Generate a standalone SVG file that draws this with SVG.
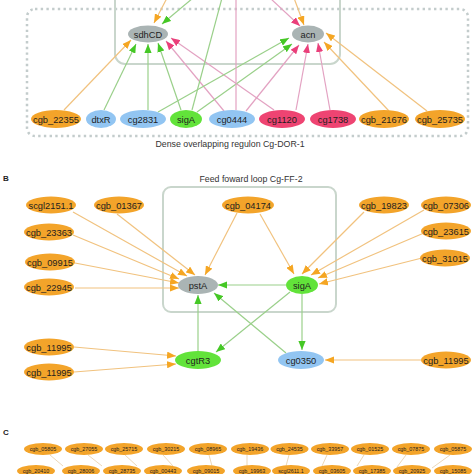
<svg xmlns="http://www.w3.org/2000/svg" width="474" height="474" viewBox="0 0 474 474">
<style>
text{font-family:"Liberation Sans",Arial,sans-serif;fill:#1e1e1e;text-anchor:middle}
.n text{font-size:9.3px}
.c text{font-size:5.4px}
.o{fill:#f3a42a}
.g{fill:#62e33a}
.b{fill:#92c5f2}
.p{fill:#ee4472}
.y{fill:#aab4b4}
.eo{stroke:#f1c27e;stroke-width:1.2;fill:none}
.eg{stroke:#9ad08a;stroke-width:1.2;fill:none}
.ep{stroke:#e3a2c2;stroke-width:1.2;fill:none}
.ec{stroke:#e6cda6;stroke-width:0.8;fill:none}
.mo{marker-end:url(#ao)}
.mg{marker-end:url(#ag)}
.mp{marker-end:url(#ap)}
.cap{font-size:8.8px;fill:#333}
.lbl{font-size:8px;font-weight:bold;text-anchor:start;fill:#222}
</style>
<defs>
<marker id="ao" viewBox="0 0 10 8" refX="10" refY="4" markerWidth="9" markerHeight="7.2" markerUnits="userSpaceOnUse" orient="auto"><path d="M0,0 L10,4 L0,8 z" fill="#f5a623"/></marker>
<marker id="ag" viewBox="0 0 10 8" refX="10" refY="4" markerWidth="9" markerHeight="7.2" markerUnits="userSpaceOnUse" orient="auto"><path d="M0,0 L10,4 L0,8 z" fill="#45c825"/></marker>
<marker id="ap" viewBox="0 0 10 8" refX="10" refY="4" markerWidth="9" markerHeight="7.2" markerUnits="userSpaceOnUse" orient="auto"><path d="M0,0 L10,4 L0,8 z" fill="#ea3f7a"/></marker>
</defs>
<rect width="474" height="474" fill="#fff"/>

<!-- Section A frames -->
<rect x="27" y="9" width="441" height="127" rx="8" fill="none" stroke="#c3cccc" stroke-width="2.5" stroke-dasharray="2.4 3.3"/>
<rect x="115" y="-20" width="225" height="84" rx="10" fill="none" stroke="#c9d6cc" stroke-width="2"/>
<text class="cap" x="230" y="147">Dense overlapping regulon Cg-DOR-1</text>

<!-- Section B frame -->
<text class="lbl" x="3" y="181">B</text>
<text class="cap" x="251" y="182">Feed foward loop Cg-FF-2</text>
<rect x="163" y="187" width="173" height="125" rx="8" fill="none" stroke="#c9d6cc" stroke-width="2"/>

<text class="lbl" x="3" y="435">C</text>

<g id="connectors">
<!-- A -->
<path class="eo mo" d="M64,110 L131,40"/>
<path class="eg mg" d="M104,110 L136,44"/>
<path class="eg mg" d="M148,110 L148,44"/>
<path class="eg mg" d="M181,110 L158,43"/>
<path class="ep mp" d="M224,111 L166,41"/>
<path class="ep mp" d="M274,110 L171,38"/>
<path class="eg mg" d="M158,112 L289,38"/>
<path class="eg mg" d="M197,112 L292,44"/>
<path class="eg" d="M192,110 L222,-2"/>
<path class="ep" d="M236,-2 L236,110"/>
<path class="ep mp" d="M246,111 L299,45"/>
<path class="ep mp" d="M296,110 L308,44"/>
<path class="ep mp" d="M330,110 L318,43"/>
<path class="eo mo" d="M389,111 L324,42"/>
<path class="eo mo" d="M427,111 L326,33"/>
<path class="eo mo" d="M167,-2 L154,23"/>
<path class="eg mg" d="M193,-2 L162,24"/>
<path class="ep mp" d="M270,-2 L300,26"/>
<path class="eo mo" d="M294,-2 L304,25"/>
<!-- B -->
<path class="eo mo" d="M73,212 L187,276"/>
<path class="eo mo" d="M117,214 L195,275"/>
<path class="eo mo" d="M73,235 L179,279"/>
<path class="eo mo" d="M75,263 L179,283"/>
<path class="eo mo" d="M75,288 L179,288"/>
<path class="eo mo" d="M237,213 L205,275"/>
<path class="eo mo" d="M260,214 L294,274"/>
<path class="eo mo" d="M364,212 L302,274"/>
<path class="eo mo" d="M424,210 L311,275"/>
<path class="eo mo" d="M424,233 L318,278"/>
<path class="eo mo" d="M422,258 L319,284"/>
<path class="eg mg" d="M286,285 L218,285"/>
<path class="eg mg" d="M198,351 L198,295"/>
<path class="eg mg" d="M290,292 L216,352"/>
<path class="eg mg" d="M286,353 L214,293"/>
<path class="eg mg" d="M302,294 L302,350"/>
<path class="eo mo" d="M74,347 L176,356"/>
<path class="eo mo" d="M74,372 L176,364"/>
<path class="eo mo" d="M421,360 L325,360"/>
<!-- C -->
<path class="ec" d="M50,455 L63,466"/>
<path class="ec" d="M88,455 L102,466"/>
<path class="ec" d="M125,455 L137,466"/>
<path class="ec" d="M163,455 L173,466"/>
<path class="ec" d="M209,455 L212,466"/>
<path class="ec" d="M247,455 L247,466"/>
<path class="ec" d="M289,455 L286,466"/>
<path class="ec" d="M327,455 L322,466"/>
<path class="ec" d="M364,455 L357,466"/>
<path class="ec" d="M406,455 L397,467"/>
<path class="ec" d="M450,455 L432,468"/>
</g>

<!-- Section A nodes -->
<g class="n">
<g id="a-sdhCD"><ellipse class="y" cx="148" cy="34" rx="20" ry="8.5"/><text x="148" y="37.5">sdhCD</text></g>
<g id="a-acn"><ellipse class="y" cx="308" cy="34" rx="16" ry="8.5"/><text x="308" y="37.5">acn</text></g>
<g id="a-cgb_22355"><ellipse class="o" cx="56" cy="119" rx="25" ry="9"/><text x="56" y="122.5">cgb_22355</text></g>
<g id="a-dtxR"><ellipse class="b" cx="101" cy="119" rx="15" ry="9"/><text x="101" y="122.5">dtxR</text></g>
<g id="a-cg2831"><ellipse class="b" cx="143" cy="119" rx="23" ry="9"/><text x="143" y="122.5">cg2831</text></g>
<g id="a-sigA"><ellipse class="g" cx="186" cy="119" rx="16" ry="9"/><text x="186" y="122.5">sigA</text></g>
<g id="a-cg0444"><ellipse class="b" cx="232" cy="119" rx="23" ry="9"/><text x="232" y="122.5">cg0444</text></g>
<g id="a-cg1120"><ellipse class="p" cx="282" cy="119" rx="23" ry="9"/><text x="282" y="122.5">cg1120</text></g>
<g id="a-cg1738"><ellipse class="p" cx="333" cy="119" rx="23" ry="9"/><text x="333" y="122.5">cg1738</text></g>
<g id="a-cgb_21676"><ellipse class="o" cx="384" cy="119" rx="25" ry="9"/><text x="384" y="122.5">cgb_21676</text></g>
<g id="a-cgb_25735"><ellipse class="o" cx="440" cy="119" rx="25" ry="9"/><text x="440" y="122.5">cgb_25735</text></g>

<!-- Section B nodes -->
<g id="b-scgl2151.1"><ellipse class="o" cx="51" cy="205" rx="25" ry="8.5"/><text x="51" y="208.5">scgl2151.1</text></g>
<g id="b-cgb_01367"><ellipse class="o" cx="119" cy="205" rx="25" ry="8.5"/><text x="119" y="208.5">cgb_01367</text></g>
<g id="b-cgb_23363"><ellipse class="o" cx="49" cy="232" rx="25" ry="8.5"/><text x="49" y="235.5">cgb_23363</text></g>
<g id="b-cgb_09915"><ellipse class="o" cx="50" cy="262" rx="25" ry="8.5"/><text x="50" y="265.5">cgb_09915</text></g>
<g id="b-cgb_22945"><ellipse class="o" cx="49" cy="287" rx="25" ry="8.5"/><text x="49" y="290.5">cgb_22945</text></g>
<g id="b-cgb_04174"><ellipse class="o" cx="248" cy="205" rx="26" ry="8.5"/><text x="248" y="208.5">cgb_04174</text></g>
<g id="b-cgb_19823"><ellipse class="o" cx="384" cy="205" rx="25" ry="8.5"/><text x="384" y="208.5">cgb_19823</text></g>
<g id="b-cgb_07306"><ellipse class="o" cx="446" cy="205" rx="25" ry="8.5"/><text x="446" y="208.5">cgb_07306</text></g>
<g id="b-cgb_23615"><ellipse class="o" cx="446" cy="231" rx="25" ry="8.5"/><text x="446" y="234.5">cgb_23615</text></g>
<g id="b-cgb_31015"><ellipse class="o" cx="445" cy="258" rx="25" ry="8.5"/><text x="445" y="261.5">cgb_31015</text></g>
<g id="b-pstA"><ellipse class="y" cx="198" cy="285" rx="20" ry="9"/><text x="198" y="288.5">pstA</text></g>
<g id="b-sigA"><ellipse class="g" cx="302" cy="285" rx="16" ry="9"/><text x="302" y="288.5">sigA</text></g>
<g id="b-cgtR3"><ellipse class="g" cx="198" cy="360" rx="23" ry="9"/><text x="198" y="363.5">cgtR3</text></g>
<g id="b-cg0350"><ellipse class="b" cx="301" cy="360" rx="23" ry="9"/><text x="301" y="363.5">cg0350</text></g>
<g id="b-cgb_11995-1"><ellipse class="o" cx="49" cy="347" rx="25" ry="8.5"/><text x="49" y="350.5">cgb_11995</text></g>
<g id="b-cgb_11995-2"><ellipse class="o" cx="49" cy="372" rx="25" ry="8.5"/><text x="49" y="375.5">cgb_11995</text></g>
<g id="b-cgb_11995-3"><ellipse class="o" cx="446" cy="360" rx="25" ry="8.5"/><text x="446" y="363.5">cgb_11995</text></g>
</g>

<!-- Section C nodes -->
<g class="c">
<g id="c-cgb_05805"><ellipse class="o" cx="43" cy="449" rx="19" ry="6"/><text x="43" y="451">cgb_05805</text></g>
<g id="c-cgb_27055"><ellipse class="o" cx="84" cy="449" rx="19" ry="6"/><text x="84" y="451">cgb_27055</text></g>
<g id="c-cgb_25715"><ellipse class="o" cx="124" cy="449" rx="19" ry="6"/><text x="124" y="451">cgb_25715</text></g>
<g id="c-cgb_30215"><ellipse class="o" cx="166" cy="449" rx="19" ry="6"/><text x="166" y="451">cgb_30215</text></g>
<g id="c-cgb_08965"><ellipse class="o" cx="208" cy="449" rx="19" ry="6"/><text x="208" y="451">cgb_08965</text></g>
<g id="c-cgb_19436"><ellipse class="o" cx="250" cy="449" rx="19" ry="6"/><text x="250" y="451">cgb_19436</text></g>
<g id="c-cgb_24535"><ellipse class="o" cx="289.5" cy="449" rx="19" ry="6"/><text x="289.5" y="451">cgb_24535</text></g>
<g id="c-cgb_33957"><ellipse class="o" cx="330" cy="449" rx="19" ry="6"/><text x="330" y="451">cgb_33957</text></g>
<g id="c-cgb_01525"><ellipse class="o" cx="370" cy="449" rx="19" ry="6"/><text x="370" y="451">cgb_01525</text></g>
<g id="c-cgb_07875"><ellipse class="o" cx="411" cy="449" rx="19" ry="6"/><text x="411" y="451">cgb_07875</text></g>
<g id="c-cgb_05875"><ellipse class="o" cx="453" cy="449" rx="19" ry="6"/><text x="453" y="451">cgb_05875</text></g>
<g id="c-cgb_20410"><ellipse class="o" cx="36" cy="471" rx="19" ry="6"/><text x="36" y="473">cgb_20410</text></g>
<g id="c-cgb_28006"><ellipse class="o" cx="81" cy="471" rx="19" ry="6"/><text x="81" y="473">cgb_28006</text></g>
<g id="c-cgb_28735"><ellipse class="o" cx="122" cy="471" rx="19" ry="6"/><text x="122" y="473">cgb_28735</text></g>
<g id="c-cgb_00443"><ellipse class="o" cx="163" cy="471" rx="19" ry="6"/><text x="163" y="473">cgb_00443</text></g>
<g id="c-cgb_09015"><ellipse class="o" cx="206" cy="471" rx="19" ry="6"/><text x="206" y="473">cgb_09015</text></g>
<g id="c-cgb_19963"><ellipse class="o" cx="252" cy="471" rx="19" ry="6"/><text x="252" y="473">cgb_19963</text></g>
<g id="c-scgl2611.1"><ellipse class="o" cx="291" cy="471" rx="19" ry="6"/><text x="291" y="473">scgl2611.1</text></g>
<g id="c-cgb_03605"><ellipse class="o" cx="332" cy="471" rx="19" ry="6"/><text x="332" y="473">cgb_03605</text></g>
<g id="c-cgb_17385"><ellipse class="o" cx="372" cy="471" rx="19" ry="6"/><text x="372" y="473">cgb_17385</text></g>
<g id="c-cgb_20925"><ellipse class="o" cx="412" cy="471" rx="19" ry="6"/><text x="412" y="473">cgb_20925</text></g>
<g id="c-cgb_15085"><ellipse class="o" cx="453" cy="471" rx="19" ry="6"/><text x="453" y="473">cgb_15085</text></g>
</g>
</svg>
